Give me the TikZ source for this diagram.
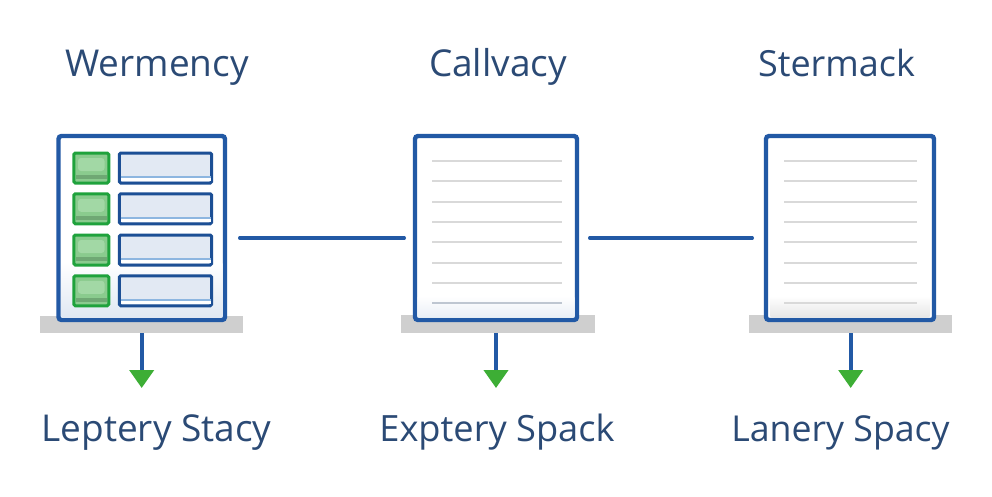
\documentclass[tikz,border=0pt]{standalone}
\usepackage{fontspec}
\setmainfont{Open Sans}
\usetikzlibrary{arrows.meta,calc}
\definecolor{navy}{HTML}{2B4A75}
\definecolor{frame}{HTML}{2259A5}
\definecolor{shelfc}{HTML}{CFCFCF}
\definecolor{ruleg}{HTML}{D9D9D9}
\definecolor{grn}{HTML}{1FA23C}
\definecolor{grnf}{HTML}{8ACB8E}
\definecolor{grnl}{HTML}{A2D8A5}
\definecolor{grnd}{HTML}{6FA874}
\definecolor{barb}{HTML}{1C4F95}
\definecolor{barf}{HTML}{E2E9F3}
\definecolor{barl}{HTML}{8DB6E0}
\definecolor{tipg}{HTML}{3DAE35}
\tikzset{
  x=1pt,y=-1pt,
  labeltext/.style={font=\fontsize{#1}{42}\selectfont,text=navy,anchor=base,inner sep=0pt},
  panel/.style={draw=frame,line width=4.4pt,rounded corners=3pt,fill=white,inner sep=0pt},
  shelfbox/.style={fill=shelfc,inner sep=0pt},
  link/.style={draw=frame,line width=3.4pt,line cap=round},
  drop/.style={draw=frame,line width=4pt,-{Triangle[width=24pt,length=18pt,color=tipg,sep=0pt]},shorten >=0pt},
  sheet/.style={draw=ruleg,line width=2pt},
  tick/.style={draw=grn,line width=3pt,fill=grnf,rounded corners=1.5pt,inner sep=0pt,outer sep=0pt,minimum width=35pt,minimum height=30pt},
  slot/.style={draw=barb,line width=3pt,fill=barf,rounded corners=1.5pt,inner sep=0pt,outer sep=0pt,minimum width=92.4pt,minimum height=30pt},
}
\begin{document}
\begin{tikzpicture}
\useasboundingbox (0,0) rectangle (992,496);
\fill[white] (0,0) rectangle (992,496);

% titles
\node[labeltext=37] (h1) at (157,76) {Wermency};
\node[labeltext=37] (h2) at (498,76) {Callvacy};
\node[labeltext=36] (h3) at (836.5,76) {Stermack};

% shelves
\node[shelfbox,minimum width=203pt,minimum height=17pt] (s1) at (141.5,324.5) {};
\node[shelfbox,minimum width=194pt,minimum height=18pt] (s2) at (497.75,324) {};
\node[shelfbox,minimum width=203.5pt,minimum height=18pt] (s3) at (850.25,324) {};

% panels
\node[panel,minimum width=166.5pt,minimum height=184pt] (p1) at (141.75,228) {};
\node[panel,minimum width=162pt,minimum height=184pt] (p2) at (496,228) {};
\node[panel,minimum width=168pt,minimum height=184pt] (p3) at (850,228) {};

% bottom shading inside panels
\shade[top color=white,bottom color=white!86!frame,rounded corners=2pt] (61,262) rectangle (222.5,317.5);
\shade[top color=white,bottom color=white!90!frame,rounded corners=2pt] (417.5,296) rectangle (574.5,317.5);
\shade[top color=white,bottom color=white!90!black,rounded corners=2pt] (770,296) rectangle (930,317.5);

% first panel rows
\foreach \i/\y in {1/168,2/208.8,3/250,4/290.8}{
  \node[tick] (g\i) at (91.3,\y) {};
  \fill[grnl,rounded corners=3pt] (78,\y-10) rectangle (104.5,\y+3);
  \fill[grnd] (75.5,\y+7) rectangle (107,\y+11);
  \node[slot] (b\i) at (165.5,\y) {};
  \fill[white] (120.5,\y+9) rectangle (210.5,\y+13.3);
  \draw[barl,line width=1.8pt] (120.5,\y+9) -- (210.5,\y+9);
}

% ruled lines
\foreach \y in {161,181.3,201.7,222,242.3,262.7,283}{
  \draw[sheet] (432,\y) -- (562,\y);
  \draw[sheet] (784,\y) -- (917,\y);
}
\draw[sheet,draw=ruleg!85!frame] (432,303) -- (562,303);
\draw[sheet] (784,303) -- (917,303);

% connectors
\draw[link,shorten <=12.5pt,shorten >=8.5pt] ([yshift=-10pt]p1.east) -- ([yshift=-10pt]p2.west);
\draw[link,shorten <=10.5pt,shorten >=11.5pt] ([yshift=-10pt]p2.east) -- ([yshift=-10pt]p3.west);

% drops
\coordinate (t1) at (141.7,388);
\coordinate (t2) at (496,388);
\coordinate (t3) at (850.7,388);
\draw[drop] (s1.south -| t1) -- (t1);
\draw[drop] (s2.south -| t2) -- (t2);
\draw[drop] (s3.south -| t3) -- (t3);

% labels
\node[labeltext=37] (f1) at (156.5,441) {Leptery Stacy};
\node[labeltext=36.2] (f2) at (497,441) {Exptery Spack};
\node[labeltext=35.7] (f3) at (840.5,441) {Lanery Spacy};
\end{tikzpicture}
\end{document}
